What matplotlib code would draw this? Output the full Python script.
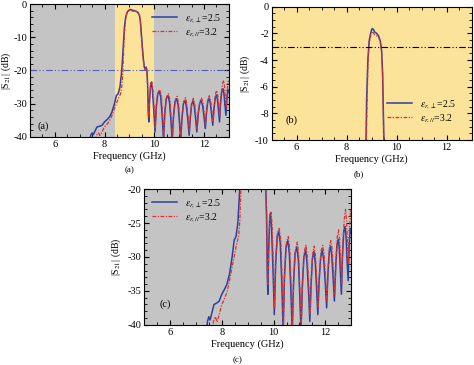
import matplotlib
matplotlib.use('Agg')
import matplotlib.pyplot as plt
from matplotlib.ticker import MultipleLocator

plt.rcParams['font.family'] = ['Liberation Serif', 'DejaVu Serif']
plt.rcParams['mathtext.fontset'] = 'stix'
plt.rcParams['axes.unicode_minus'] = False

# |S21| для eps_perp = 2.5
f_perp = [7.40, 7.45, 7.50, 7.55, 7.60, 7.70, 7.80, 7.90, 8.00, 8.10, 8.20, 8.30,
          8.40, 8.48, 8.55, 8.62, 8.68, 8.72, 8.76, 8.80, 8.85, 8.90, 8.96, 9.02,
          9.07, 9.12, 9.20, 9.28, 9.35, 9.40, 9.44, 9.48, 9.52, 9.56, 9.60, 9.63,
          9.67, 9.70, 9.73, 9.76, 9.78, 9.81, 9.85, 9.88, 9.92, 9.98, 10.03, 10.08,
          10.14, 10.20, 10.26, 10.32, 10.37, 10.42, 10.48, 10.55, 10.61, 10.67, 10.72,
          10.77, 10.83, 10.90, 10.96, 11.01, 11.06, 11.11, 11.17, 11.24, 11.29, 11.35,
          11.40, 11.45, 11.50, 11.56, 11.61, 11.66, 11.71, 11.76, 11.82, 11.88, 11.94,
          12.00, 12.05, 12.10, 12.15, 12.20, 12.25, 12.30, 12.35, 12.40, 12.45, 12.50,
          12.54, 12.58, 12.62, 12.66, 12.71, 12.76, 12.80, 12.84, 12.88, 12.92, 12.96,
          13.00]
s_perp = [-41.0, -39.5, -38.8, -39.3, -38.5, -37.0, -36.8, -36.5, -35.5, -34.8, -34.0, -32.5,
          -30.0, -27.5, -27.0, -25.0, -21.0, -17.0, -12.0, -7.0, -4.0, -2.6, -2.0, -1.65,
          -1.7, -1.9, -2.0, -2.2, -2.6, -3.3, -5.0, -9.0, -13.0, -16.5, -19.0, -19.5,
          -19.0, -19.8, -24.0, -33.0, -35.5, -29.0, -24.5, -23.6, -25.5, -32.0, -38.5, -31.0,
          -27.0, -26.2, -28.0, -34.0, -41.0, -33.0, -28.5, -27.6, -29.5, -35.0, -41.0,
          -34.0, -29.5, -28.5, -30.5, -35.5, -41.0, -34.5, -30.0, -29.0, -30.8, -35.0,
          -39.5, -34.0, -30.2, -29.2, -30.8, -34.5, -38.5, -33.5, -30.0, -29.0, -30.5,
          -34.0, -37.5, -32.5, -29.3, -28.4, -29.8, -33.0, -36.5, -31.5, -28.2, -27.4,
          -28.8, -32.0, -35.5, -30.0, -26.3, -25.5, -27.0, -30.5, -33.5, -28.5, -25.8,
          -26.5]

# |S21| для eps_par = 3.2
f_par = [7.62, 7.68, 7.75, 7.82, 7.90, 8.00, 8.10, 8.20, 8.30, 8.40, 8.50, 8.58,
         8.65, 8.70, 8.74, 8.77, 8.80, 8.85, 8.90, 8.96, 9.00, 9.03, 9.08, 9.13,
         9.20, 9.28, 9.35, 9.40, 9.44, 9.48, 9.52, 9.56, 9.60, 9.63, 9.67, 9.70,
         9.73, 9.76, 9.78, 9.82, 9.86, 9.90, 9.94, 9.99, 10.04, 10.09, 10.15, 10.22,
         10.28, 10.33, 10.38, 10.43, 10.50, 10.57, 10.63, 10.68, 10.73, 10.78, 10.85,
         10.92, 10.97, 11.02, 11.07, 11.12, 11.19, 11.25, 11.30, 11.36, 11.41, 11.46,
         11.52, 11.57, 11.62, 11.67, 11.72, 11.77, 11.84, 11.90, 11.95, 12.01, 12.06,
         12.11, 12.16, 12.21, 12.26, 12.31, 12.36, 12.41, 12.46, 12.51, 12.55, 12.59,
         12.63, 12.67, 12.73, 12.78, 12.82, 12.86, 12.89, 12.93, 12.97, 13.00]
s_par = [-41.0, -39.5, -38.8, -39.6, -38.5, -37.0, -36.2, -35.2, -33.5, -31.5, -29.5, -28.0,
         -27.0, -24.5, -20.0, -14.0, -9.0, -4.5, -2.8, -2.2, -2.0, -1.85, -2.0, -2.15,
         -2.2, -2.3, -2.7, -3.4, -5.2, -9.2, -13.5, -17.0, -19.3, -19.8, -19.2, -20.0,
         -24.0, -32.0, -34.0, -28.0, -24.0, -23.4, -25.0, -31.0, -37.5, -30.0, -26.5,
         -25.8, -27.5, -33.0, -40.5, -32.0, -27.8, -27.0, -29.0, -34.5, -40.5, -33.0,
         -28.8, -27.8, -29.8, -35.0, -40.0, -33.5, -29.2, -28.2, -29.8, -34.0, -38.5,
         -33.0, -29.3, -28.4, -29.8, -33.5, -37.5, -32.5, -29.0, -28.3, -29.6, -33.0,
         -36.5, -31.5, -28.4, -27.6, -28.8, -32.0, -35.5, -30.5, -27.0, -26.0, -27.4,
         -30.5, -34.0, -28.5, -24.5, -23.0, -24.5, -28.5, -31.0, -26.5, -23.2, -23.5]

lab_perp = r'$\varepsilon_{r,\perp}$=2.5'
lab_par = r'$\varepsilon_{r,//}$=3.2'

c_blue = '#2f3f9e'
c_red = '#e0302a'
c_gray = '#c4c4c4'
c_yel = '#fbe39a'


def style(ax, ymaj, ymin, ylab_x):
    ax.set_xlim(5, 13)
    ax.xaxis.set_major_locator(MultipleLocator(2))
    ax.xaxis.set_minor_locator(MultipleLocator(0.5))
    ax.yaxis.set_major_locator(MultipleLocator(ymaj))
    ax.yaxis.set_minor_locator(MultipleLocator(ymin))
    ax.tick_params(which='both', direction='in', top=True, right=True, labelsize=7.5, pad=2)
    ax.tick_params(which='major', length=3.5)
    ax.tick_params(which='minor', length=2)
    ax.set_xlabel('Frequency (GHz)', fontsize=7.5, labelpad=2)
    ax.set_ylabel(r'|S$_{21}$| (dB)', fontsize=7)
    ax.yaxis.set_label_coords(ylab_x, 0.5)


fig = plt.figure(figsize=(4.74, 3.65), dpi=100)

# (a)
ax = fig.add_axes([0.063, 0.625, 0.42, 0.364])
ax.set_facecolor(c_gray)
ax.axvspan(8.43, 9.97, color=c_yel, lw=0)
ax.plot(f_perp, s_perp, color=c_blue, lw=1.1, label=lab_perp)
ax.plot(f_par, s_par, color=c_red, lw=0.9, ls=(0, (3, 1.2, 1, 1.2)), label=lab_par)
ax.axhline(-20, color='#5060b8', lw=0.8, ls=(0, (6, 2, 1, 2, 1, 2)))
ax.set_ylim(-40, 0)
style(ax, 10, 2, -0.085)
ax.text(5.3, -37.5, '(a)', fontsize=7.5)
ax.legend(loc='upper right', frameon=False, fontsize=7, handlelength=2.6,
          labelspacing=0.1, borderaxespad=0.4)
fig.text(0.274, 0.528, '(a)', fontsize=6.5, ha='center')

# (b)
ax = fig.add_axes([0.573, 0.616, 0.422, 0.366])
ax.set_facecolor(c_yel)
ax.plot(f_perp, s_perp, color=c_blue, lw=1.1, label=lab_perp)
ax.plot(f_par, s_par, color=c_red, lw=0.9, ls=(0, (3, 1.2, 1, 1.2)), label=lab_par)
ax.axhline(-3, color='black', lw=0.8, ls=(0, (6, 2, 1, 2, 1, 2)))
ax.set_ylim(-10, 0)
style(ax, 2, 0.5, -0.1)
ax.text(5.55, -8.7, '(b)', fontsize=7.5)
ax.legend(loc='lower right', frameon=False, fontsize=7, handlelength=2.6,
          labelspacing=0.1, borderaxespad=1.2)
fig.text(0.757, 0.518, '(b)', fontsize=6.5, ha='center')

# (c)
ax = fig.add_axes([0.304, 0.110, 0.437, 0.372])
ax.set_facecolor(c_gray)
ax.plot(f_perp, s_perp, color=c_blue, lw=1.1, label=lab_perp)
ax.plot(f_par, s_par, color=c_red, lw=0.9, ls=(0, (3, 1.2, 1, 1.2)), label=lab_par)
ax.set_ylim(-40, -20)
style(ax, 5, 1, -0.1)
ax.text(5.6, -37.3, '(c)', fontsize=7.5)
ax.legend(loc='upper left', frameon=False, fontsize=7, handlelength=2.6,
          labelspacing=0.1, borderaxespad=0.4)
fig.text(0.502, 0.008, '(c)', fontsize=6.5, ha='center')

fig.savefig('out.png', dpi=100)
